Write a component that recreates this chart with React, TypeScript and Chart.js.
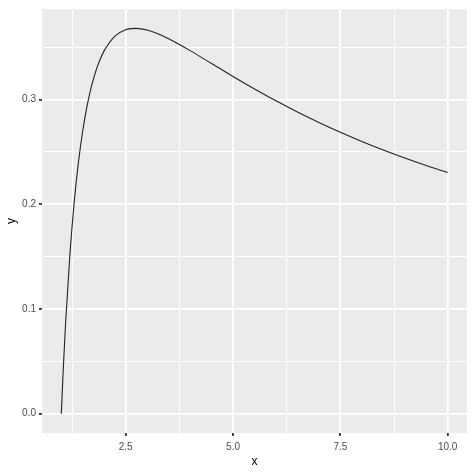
import React, { useEffect, useRef } from "react";
import { Chart, registerables } from "chart.js";

Chart.register(...registerables);

const xValues = [1.0, 1.02, 1.05, 1.1, 1.2, 1.3, 1.4, 1.5, 1.6, 1.7, 1.8, 1.9, 2.0, 2.25, 2.5, 2.75, 3.0, 3.25, 3.5, 3.75, 4.0, 4.5, 5.0, 5.5, 6.0, 6.5, 7.0, 7.5, 8.0, 8.5, 9.0, 9.5, 10.0];
const yValues = [0, 0.01941, 0.04647, 0.08665, 0.15193, 0.20182, 0.24034, 0.27031, 0.29375, 0.31213, 0.32655, 0.33782, 0.34657, 0.36041, 0.36652, 0.36785, 0.3662, 0.36266, 0.35793, 0.35247, 0.34657, 0.33424, 0.32189, 0.30995, 0.29863, 0.28797, 0.27799, 0.26865, 0.25993, 0.25177, 0.24414, 0.23698, 0.23026];

const xMajor = [2.5, 5.0, 7.5, 10.0];
const xMinor = [1.25, 3.75, 6.25, 8.75];
const yMajor = [0.0, 0.1, 0.2, 0.3];
const yMinor = [0.05, 0.15, 0.25, 0.35];

const xTitle = "x";
const yTitle = "y";

const isMajor = (v: number, arr: number[]) => arr.some((a) => Math.abs(a - v) < 1e-9);

const panelBg = {
  id: "panelBg",
  beforeDraw(chart: any) {
    const { ctx, chartArea } = chart;
    ctx.save();
    ctx.fillStyle = "#EBEBEB";
    ctx.fillRect(chartArea.left, chartArea.top, chartArea.right - chartArea.left, chartArea.bottom - chartArea.top);
    ctx.restore();
  },
};

export default function App() {
  const ref = useRef<HTMLCanvasElement | null>(null);
  useEffect(() => {
    if (!ref.current) return;
    const tickFont = { family: "'Liberation Sans', Arial, sans-serif", size: 10 };
    const chart = new Chart(ref.current, {
      type: "line",
      data: {
        datasets: [
          {
            data: xValues.map((x, i) => ({ x, y: yValues[i] })),
            borderColor: "#222222",
            borderWidth: 1.1,
            pointRadius: 0,
            fill: false,
            cubicInterpolationMode: "monotone",
          },
        ],
      },
      options: {
        animation: false,
        responsive: false,
        maintainAspectRatio: false,
        layout: { padding: { left: 0, right: 7, top: 5, bottom: 0 } },
        plugins: { legend: { display: false }, tooltip: { enabled: false } },
        scales: {
          x: {
            type: "linear",
            min: 0.55,
            max: 10.45,
            afterBuildTicks: (s: any) => {
              s.ticks = [...xMinor, ...xMajor].sort((a, b) => a - b).map((v) => ({ value: v }));
            },
            afterFit: (s: any) => {
              s.height = 40;
            },
            border: { display: false },
            grid: {
              color: () => "#FFFFFF",
              lineWidth: (c: any) => (isMajor(c.tick?.value, xMajor) ? 1.8 : 0.9),
              tickColor: (c: any) => (isMajor(c.tick?.value, xMajor) ? "#333333" : "rgba(0,0,0,0)"),
              tickLength: 3,
              drawTicks: true,
            },
            ticks: {
              autoSkip: false,
              maxRotation: 0,
              padding: 5,
              color: "#4D4D4D",
              font: tickFont,
              callback: (v: any) => (isMajor(Number(v), xMajor) ? Number(v).toFixed(1) : ""),
            },
            title: {
              display: true,
              text: xTitle,
              color: "#000000",
              font: { family: "'Liberation Sans', Arial, sans-serif", size: 12 },
              padding: { top: 0, bottom: 4 },
            },
          },
          y: {
            type: "linear",
            min: -0.0184,
            max: 0.3863,
            afterBuildTicks: (s: any) => {
              s.ticks = [...yMinor, ...yMajor].sort((a, b) => a - b).map((v) => ({ value: v }));
            },
            afterFit: (s: any) => {
              s.width = 42;
            },
            border: { display: false },
            grid: {
              color: () => "#FFFFFF",
              lineWidth: (c: any) => (isMajor(c.tick?.value, yMajor) ? 1.8 : 0.9),
              tickColor: (c: any) => (isMajor(c.tick?.value, yMajor) ? "#333333" : "rgba(0,0,0,0)"),
              tickLength: 3,
              drawTicks: true,
            },
            ticks: {
              autoSkip: false,
              padding: 3,
              color: "#4D4D4D",
              font: tickFont,
              callback: (v: any) => (isMajor(Number(v), yMajor) ? Number(v).toFixed(1) : ""),
            },
            title: {
              display: true,
              text: yTitle,
              color: "#000000",
              font: { family: "'Liberation Sans', Arial, sans-serif", size: 12 },
              padding: { top: 4, bottom: 0 },
            },
          },
        },
      },
      plugins: [panelBg],
    } as any);
    return () => chart.destroy();
  }, []);
  return (
    <div style={{ position: "fixed", left: 0, top: 0, width: 474, height: 473, background: "#FFFFFF" }}>
      <canvas ref={ref} width={474} height={473} style={{ display: "block" }} />
    </div>
  );
}
